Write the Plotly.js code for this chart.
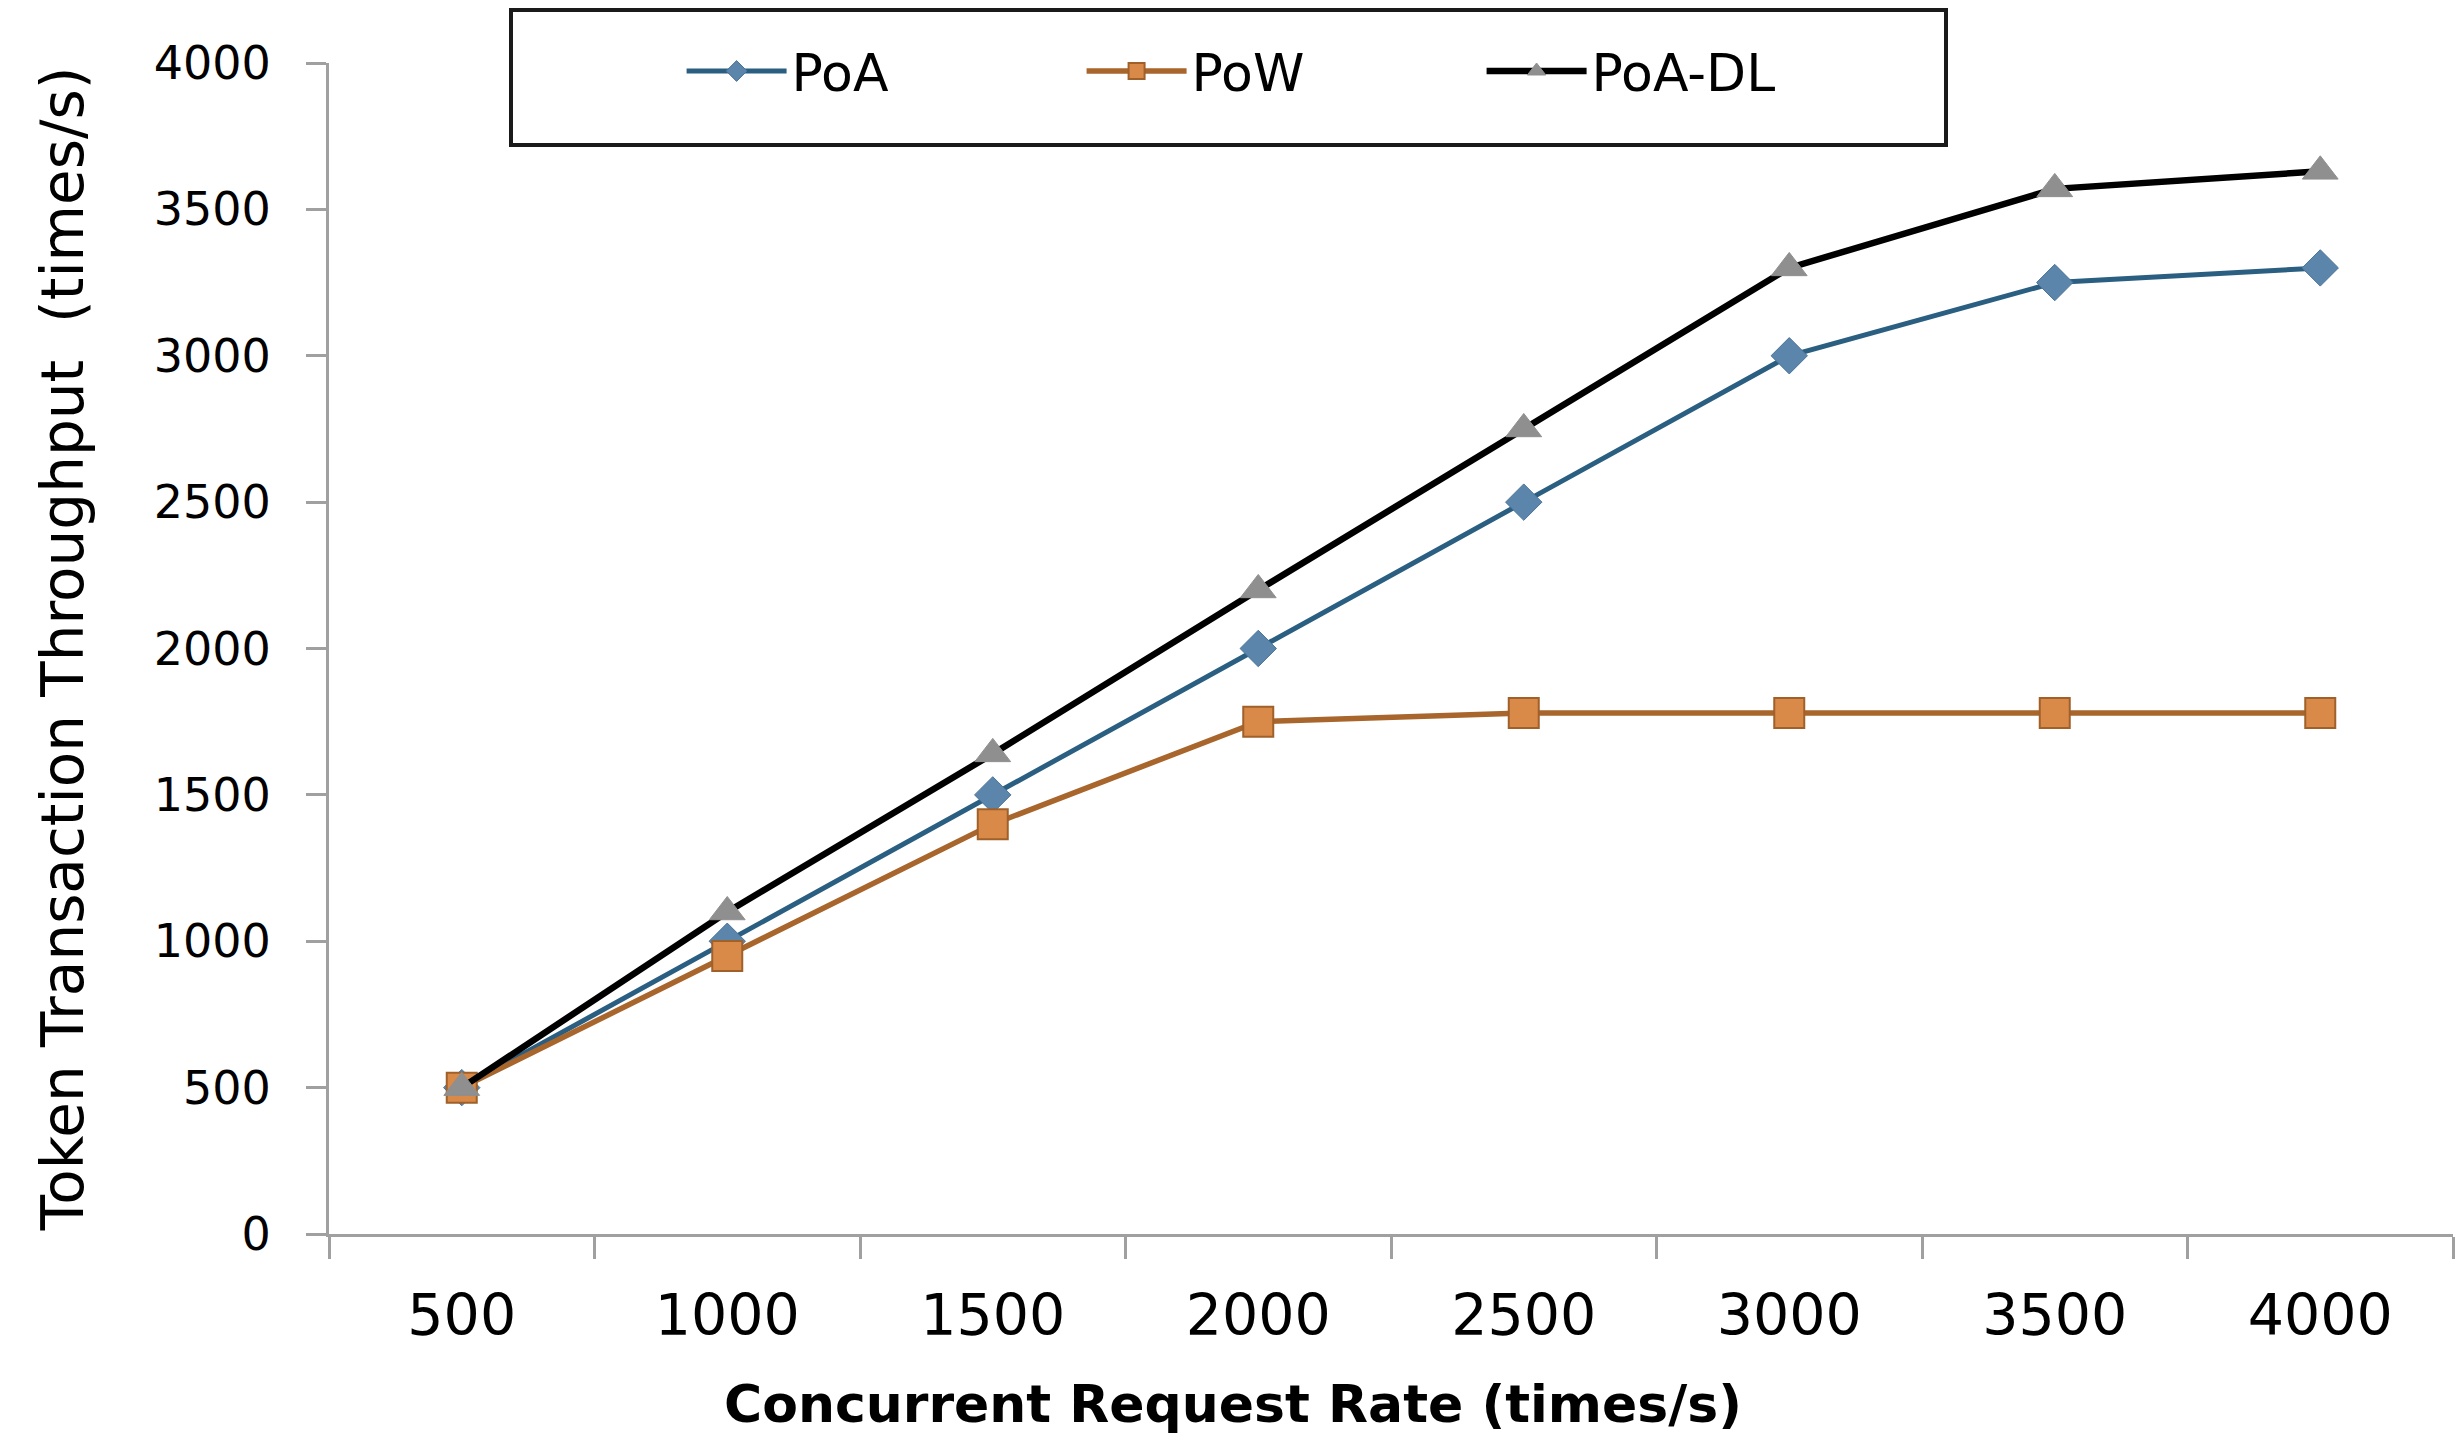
<!DOCTYPE html>
<html>
<head>
<meta charset="utf-8">
<script src="https://cdn.plot.ly/plotly-3.0.1.min.js"></script>
<style>html,body{margin:0;padding:0;background:#fff;}#chart{width:2458px;height:1452px;}</style>
</head>
<body>
<div id="chart"></div>
<script>
const categories = ['500','1000','1500','2000','2500','3000','3500','4000'];
const poa   = [500, 1000, 1500, 2000, 2500, 3000, 3250, 3300];
const pow   = [500, 950, 1400, 1750, 1780, 1780, 1780, 1780];
const poadl = [500, 1100, 1640, 2200, 2750, 3300, 3570, 3630];
const yTicks = [0, 500, 1000, 1500, 2000, 2500, 3000, 3500, 4000];

const traces = [
  {x: categories, y: poa, name: 'PoA', type: 'scatter', mode: 'lines+markers',
   line: {color: '#2b5f82', width: 5},
   marker: {symbol: 'diamond', size: 28, color: '#5b85ab', line: {color: '#4a7499', width: 1}}},
  {x: categories, y: pow, name: 'PoW', type: 'scatter', mode: 'lines+markers',
   line: {color: '#a8652c', width: 5.5},
   marker: {symbol: 'square', size: 30, color: '#d98a48', line: {color: '#a0602a', width: 2}}},
  {x: categories, y: poadl, name: 'PoA-DL', type: 'scatter', mode: 'lines+markers',
   line: {color: '#000000', width: 6.5},
   marker: {symbol: 'triangle-up', size: 31, color: '#8f8f8f', line: {color: '#8f8f8f', width: 1}}}
];

const layout = {
  width: 2458, height: 1452,
  margin: {l: 329, r: 5, t: 63, b: 218},
  paper_bgcolor: '#ffffff', plot_bgcolor: '#ffffff',
  showlegend: true,
  legend: {
    orientation: 'h', x: 0.166, y: 0.993, xanchor: 'left', yanchor: 'middle',
    font: {family: 'DejaVu Sans', size: 52, color: '#000'},
    bgcolor: 'rgba(0,0,0,0)', borderwidth: 0,
    itemwidth: 100, entrywidth: 285, entrywidthmode: 'pixels', tracegroupgap: 0
  },
  xaxis: {
    type: 'category', range: [-0.5, 7.5], fixedrange: true,
    showline: true, linecolor: '#a0a0a0', linewidth: 3,
    ticks: 'outside', ticklen: 22, tickwidth: 3, tickcolor: '#a0a0a0',
    tickson: 'boundaries', showgrid: false, zeroline: false,
    tickfont: {family: 'DejaVu Sans', size: 57, color: '#000'},
    ticklabelstandoff: 30
  },
  yaxis: {
    range: [0, 4000], tickvals: yTicks, ticktext: yTicks.map(String),
    showline: true, linecolor: '#a0a0a0', linewidth: 3,
    ticks: 'outside', ticklen: 20, tickwidth: 3, tickcolor: '#a0a0a0',
    showgrid: false, zeroline: false,
    tickfont: {family: 'DejaVu Sans', size: 46, color: '#000'},
    ticklabelstandoff: 26,
    title: {text: 'Token Transaction Throughput&nbsp;&nbsp;(times/s)', standoff: 52,
            font: {family: 'DejaVu Sans', size: 58, color: '#000'}}
  },
  shapes: [{
    type: 'rect', xref: 'paper', yref: 'paper',
    x0: (511 - 329) / 2124, x1: (1946 - 329) / 2124,
    y0: (1234 - 145) / 1171, y1: (1234 - 10) / 1171,
    line: {color: '#1a1a1a', width: 4}, fillcolor: 'rgba(0,0,0,0)', layer: 'above'
  }],
  annotations: [{
    text: '<b>Concurrent Request Rate (times/s)</b>', xref: 'paper', yref: 'paper',
    x: (1233 - 329) / 2124, y: -(1404 - 1234) / 1171, xanchor: 'center', yanchor: 'middle',
    showarrow: false, font: {family: 'DejaVu Sans', size: 52, color: '#000'}
  }]
};

Plotly.newPlot('chart', traces, layout, {displayModeBar: false, staticPlot: true});
</script>
</body>
</html>
